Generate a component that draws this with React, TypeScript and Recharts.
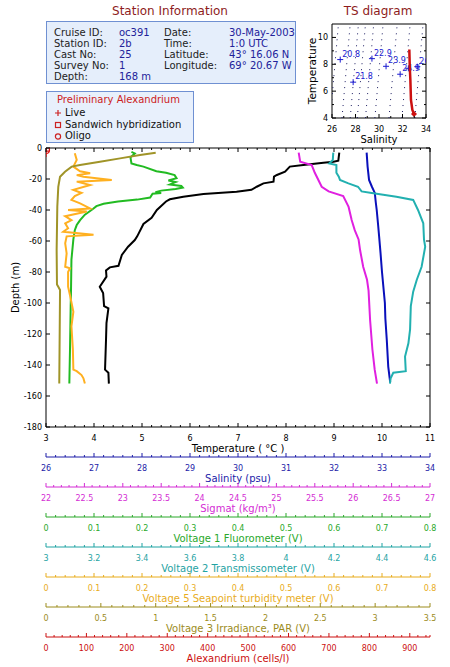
import React from "react";
import { ComposedChart, ScatterChart, Scatter, XAxis, YAxis } from "recharts";

const FONT = "'DejaVu Sans', Verdana, sans-serif";

// depth profiles, [value, depth in m]
const temperature = [
  [9.11, -3], [9.09, -8.2], [8.99, -8.8], [8.78, -9.5], [8.36, -11], [8.08, -12],
  [7.98, -15.3], [7.81, -17.4], [7.75, -18.5], [7.74, -21.7], [7.53, -22.8], [7.39, -25],
  [7.28, -27], [6.97, -28.2], [6.28, -29.7], [5.86, -31.4], [5.58, -33.1], [5.5, -34.5],
  [5.31, -40], [5.2, -45], [5.03, -49], [4.9, -57], [4.85, -59.4], [4.71, -63.7],
  [4.58, -69], [4.51, -76], [4.33, -77], [4.25, -79], [4.26, -83], [4.12, -89.5],
  [4.19, -93.5], [4.21, -102], [4.3, -103.5], [4.26, -113], [4.25, -124], [4.23, -143],
  [4.3, -145], [4.31, -152],
];
const salinity = [
  [32.68, -3], [32.7, -12], [32.73, -20.6], [32.79, -25], [32.85, -29], [32.87, -35],
  [32.89, -40], [32.92, -50], [32.94, -57], [32.97, -68], [33.0, -80], [33.03, -90],
  [33.06, -100], [33.07, -110], [33.1, -124], [33.13, -141], [33.17, -151],
];
const sigmat = [
  [25.29, -3], [25.31, -8.8], [25.46, -11], [25.5, -16], [25.59, -25], [25.68, -28],
  [25.87, -31], [25.94, -38], [25.98, -46.5], [26.02, -53], [26.07, -59], [26.09, -66],
  [26.13, -76.6], [26.18, -85], [26.2, -92], [26.22, -111], [26.25, -130], [26.28, -143],
  [26.31, -152],
];
const fluorometer = [
  [0.178, -2.5], [0.185, -3.5], [0.176, -6], [0.178, -10], [0.189, -11], [0.203, -12],
  [0.23, -15], [0.25, -16], [0.268, -17.5], [0.272, -19.5], [0.255, -21], [0.27, -22],
  [0.258, -23.5], [0.282, -24.5], [0.285, -25.5], [0.27, -26.5], [0.24, -27.5],
  [0.228, -28.5], [0.24, -29], [0.222, -29.5], [0.217, -32], [0.19, -33.3], [0.15, -34.5],
  [0.12, -36], [0.105, -37.5], [0.097, -39.5], [0.081, -43], [0.071, -46.5], [0.064, -49.7],
  [0.06, -53], [0.057, -59], [0.053, -72], [0.052, -94], [0.0514, -102], [0.05, -130],
  [0.0486, -152],
];
const transmissometer = [
  [4.197, -3], [4.195, -7.7], [4.18, -10], [4.21, -11], [4.21, -16], [4.22, -18.5],
  [4.225, -20.6], [4.26, -22.8], [4.3, -25], [4.315, -28], [4.357, -29], [4.46, -31.4],
  [4.53, -33.5], [4.55, -40], [4.572, -48.6], [4.575, -59], [4.58, -63.7], [4.565, -76.6],
  [4.545, -85], [4.53, -92.7], [4.52, -102], [4.517, -117], [4.51, -126], [4.496, -134.6],
  [4.499, -144], [4.447, -145], [4.436, -148.6], [4.433, -152],
];
const turbidity = [
  [0.06, -3.4], [0.064, -7.7], [0.057, -12], [0.071, -15], [0.092, -16.3], [0.064, -17.5],
  [0.078, -18.5], [0.137, -20.6], [0.064, -21.7], [0.092, -23.9], [0.057, -27], [0.074, -29],
  [0.06, -31], [0.053, -33.5], [0.071, -35.7], [0.092, -39], [0.046, -40], [0.085, -41],
  [0.04, -44], [0.053, -46.5], [0.04, -48.6], [0.046, -51.8], [0.036, -54], [0.099, -56],
  [0.043, -57], [0.04, -61.5], [0.043, -68], [0.04, -76.6], [0.05, -77.6], [0.046, -80],
  [0.046, -89.5], [0.05, -95], [0.057, -105.6], [0.053, -115], [0.056, -130], [0.057, -143],
  [0.064, -144], [0.074, -146.5], [0.078, -148.6], [0.081, -152],
];
const par = [
  [1.0, -3], [0.857, -4.5], [0.675, -6.7], [0.492, -8.8], [0.31, -11], [0.234, -12],
  [0.173, -15.3], [0.128, -18.5], [0.112, -25], [0.103, -38], [0.097, -66], [0.1, -88],
  [0.112, -89.5], [0.128, -91.6], [0.121, -152],
];
const alexLive = [[0, -2]];
const alexOligo = [[0, -2]];

// tick labels
const tempLabels = [3, 4, 5, 6, 7, 8, 9, 10, 11];
const salLabels = [26, 27, 28, 29, 30, 31, 32, 33, 34];
const sigLabels = [22, 22.5, 23, 23.5, 24, 24.5, 25, 25.5, 26, 26.5, 27];
const fluorLabels = [0, 0.1, 0.2, 0.3, 0.4, 0.5, 0.6, 0.7, 0.8];
const transLabels = [3, 3.2, 3.4, 3.6, 3.8, 4, 4.2, 4.4, 4.6];
const turbLabels = [0, 0.1, 0.2, 0.3, 0.4, 0.5, 0.6, 0.7, 0.8];
const parLabels = [0, 0.5, 1, 1.5, 2, 2.5, 3, 3.5];
const alexLabels = [0, 100, 200, 300, 400, 500, 600, 700, 800, 900];
const depthLabels = [0, -20, -40, -60, -80, -100, -120, -140, -160, -180];

// TS diagram
const tsLine = [[32.58, 9.1], [32.62, 7.8], [32.67, 6.83], [32.72, 5.34], [32.84, 4.6], [32.98, 4.3]];
const tsMarks = [
  { s: 26.7, t: 8.35, label: "20.8" },
  { s: 27.8, t: 6.67, label: "21.8" },
  { s: 29.4, t: 8.42, label: "22.9" },
  { s: 30.6, t: 7.85, label: "23.9" },
  { s: 31.8, t: 7.26, label: "24.9" },
  { s: 32.5, t: 7.7, label: "" },
  { s: 33.26, t: 7.82, label: "26" },
];
// isopycnals: salinity at T=4 and at T=11
const isopycnals = [
  [25.85, 26.55], [26.85, 27.55], [27.55, 28.25], [28.15, 28.85], [28.85, 29.55],
  [29.65, 30.35], [30.85, 31.55], [31.95, 32.65], [33.05, 33.75],
];
const tsSalLabels = [26, 28, 30, 32, 34];
const tsTempLabels = [4, 6, 8, 10];

const infoLeft = [
  ["Cruise ID:", "oc391"], ["Station ID:", "2b"], ["Cast No:", "25"], ["Survey No:", "1"], ["Depth:", "168 m"],
];
const infoRight = [
  ["Date:", "30-May-2003"], ["Time:", "1:0 UTC"], ["Latitude:", "43° 16.06 N"], ["Longitude:", "69° 20.67 W"],
];

const range = (a: number, b: number, s: number) => {
  const out: number[] = [];
  const n = Math.round((b - a) / s);
  for (let i = 0; i <= n; i++) out.push(+(a + i * s).toFixed(6));
  return out;
};
const pts = (rows: number[][]) => rows.map(([v, d]) => ({ v, d }));
const isMajor = (labels: number[], v: number) => labels.some((l) => Math.abs(l - v) < 1e-6);

// ids sort alphabetically in stacking order
const AXES = [
  { id: "a_temp", title: "Temperature ( °C )", color: "#000000", line: "#000000", domain: [3, 11], labels: tempLabels, minor: 0.2, data: temperature },
  { id: "b_sal", title: "Salinity (psu)", color: "#1c1ca8", line: "#0a10bb", domain: [26, 34], labels: salLabels, minor: 0.2, data: salinity },
  { id: "c_sig", title: "Sigmat (kg/m³)", color: "#d42cd4", line: "#e020e0", domain: [22, 27], labels: sigLabels, minor: 0.1, data: sigmat },
  { id: "d_fluor", title: "Voltage 1 Fluorometer (V)", color: "#2aa82a", line: "#22bb22", domain: [0, 0.8], labels: fluorLabels, minor: 0.02, data: fluorometer },
  { id: "e_trans", title: "Voltage 2 Transmissometer (V)", color: "#1fa3a3", line: "#22b0b0", domain: [3, 4.6], labels: transLabels, minor: 0.04, data: transmissometer },
  { id: "f_turb", title: "Voltage 5 Seapoint turbidity meter (V)", color: "#e8ac1c", line: "#ffb020", domain: [0, 0.8], labels: turbLabels, minor: 0.02, data: turbidity },
  { id: "g_par", title: "Voltage 3 Irradiance, PAR (V)", color: "#9c8c1c", line: "#a09428", domain: [0, 3.5], labels: parLabels, minor: 0.1, data: par },
  { id: "h_alex", title: "Alexandrium (cells/l)", color: "#cc1010", line: "#cc1010", domain: [0, 950], labels: alexLabels, minor: 20, data: null },
];

const bottomTick = (color: string, labels: number[], showText = true) => (p: any) => {
  const { x, y, payload } = p;
  const major = isMajor(labels, payload.value);
  return (
    <g>
      <line x1={x} x2={x} y1={y} y2={y - (major ? 4 : 2)} stroke={color} />
      {major && showText && (
        <text x={x} y={y + 14} textAnchor="middle" fontSize={8} fontFamily={FONT} fill={color}>
          {String(payload.value)}
        </text>
      )}
    </g>
  );
};
const topTick = (labels: number[]) => (p: any) => {
  const { x, y, payload } = p;
  const major = isMajor(labels, payload.value);
  return <line x1={x} x2={x} y1={y} y2={y + (major ? 4 : 2)} stroke="#000" />;
};
const leftTick = (labels: number[], showText = true) => (p: any) => {
  const { x, y, payload } = p;
  const major = isMajor(labels, payload.value);
  return (
    <g>
      <line x1={x} x2={x + (major ? 4 : 2)} y1={y} y2={y} stroke="#000" />
      {major && showText && (
        <text x={x - 4} y={y + 3} textAnchor="end" fontSize={8} fontFamily={FONT} fill="#000">
          {String(payload.value)}
        </text>
      )}
    </g>
  );
};
const rightTick = (labels: number[]) => (p: any) => {
  const { x, y, payload } = p;
  const major = isMajor(labels, payload.value);
  return <line x1={x} x2={x - (major ? 4 : 2)} y1={y} y2={y} stroke="#000" />;
};

const noShape = () => <g />;

const liveShape = (p: any) => (
  <path d={`M${p.cx - 3},${p.cy}H${p.cx + 3}M${p.cx},${p.cy - 5}V${p.cy + 6}`} stroke="#dd1111" strokeWidth={1.2} fill="none" />
);
const oligoShape = (p: any) => (
  <circle cx={p.cx} cy={p.cy - 1} r={3.5} stroke="#dd1111" strokeWidth={1.2} fill="none" />
);
const crossLabelShape = (p: any) => (
  <g>
    <path d={`M${p.cx - 3},${p.cy}H${p.cx + 3}M${p.cx},${p.cy - 3}V${p.cy + 3}`} stroke="#1a1ad0" strokeWidth={1} />
    <text x={p.cx + 2} y={p.cy - 3} fontSize={8} fontFamily={FONT} fill="#1a1ad0">
      {p.payload.label}
    </text>
  </g>
);
const diamondShape = (p: any) => (
  <path d={`M${p.cx},${p.cy - 3}L${p.cx + 3},${p.cy}L${p.cx},${p.cy + 3}L${p.cx - 3},${p.cy}Z`} fill="#cc1010" />
);

const abs = (left: number, top: number, extra: React.CSSProperties = {}): React.CSSProperties => ({
  position: "absolute", left, top, whiteSpace: "nowrap", ...extra,
});

function StationInfo() {
  return (
    <>
      <div style={abs(70, 3, { width: 200, textAlign: "center", fontSize: 12, color: "#8e1c1c", lineHeight: "16px" })}>
        Station Information
      </div>
      <div style={abs(46, 21, { width: 250, height: 63, boxSizing: "border-box", background: "#e5eefb", border: "1px solid #6f90d2" })}>
        {infoLeft.map(([k, v], i) => (
          <React.Fragment key={k}>
            <div style={abs(7, 5 + i * 10.9, { fontSize: 10, lineHeight: "12px", color: "#222" })}>{k}</div>
            <div style={abs(72, 5 + i * 10.9, { fontSize: 10, lineHeight: "12px", color: "#22229a" })}>{v}</div>
          </React.Fragment>
        ))}
        {infoRight.map(([k, v], i) => (
          <React.Fragment key={k}>
            <div style={abs(117, 5 + i * 10.9, { fontSize: 10, lineHeight: "12px", color: "#222" })}>{k}</div>
            <div style={abs(182, 5 + i * 10.9, { fontSize: 10, lineHeight: "12px", color: "#22229a" })}>{v}</div>
          </React.Fragment>
        ))}
      </div>
      <div style={abs(46, 91, { width: 148, height: 52, boxSizing: "border-box", background: "#e8f0fc", border: "1px solid #6f90d2" })}>
        <div style={abs(10, 1, { fontSize: 10, lineHeight: "14px", color: "#cc2222" })}>Preliminary Alexandrium</div>
        {["Live", "Sandwich hybridization", "Oligo"].map((t, i) => (
          <div key={t} style={abs(18, 15 + i * 11.7, { fontSize: 10, lineHeight: "12px", color: "#111" })}>{t}</div>
        ))}
        <svg style={abs(6, 16)} width={10} height={36}>
          <path d="M2,5H8M5,2V8" stroke="#cc2222" strokeWidth={1.2} />
          <rect x={2.5} y={14.5} width={5} height={5} stroke="#cc2222" strokeWidth={1.2} fill="none" />
          <circle cx={5} cy={28.5} r={2.6} stroke="#cc2222" strokeWidth={1.2} fill="none" />
        </svg>
      </div>
    </>
  );
}

function TSDiagram() {
  return (
    <>
      <div style={abs(318, 3, { width: 120, textAlign: "center", fontSize: 12, color: "#8e1c1c", lineHeight: "16px" })}>
        TS diagram
      </div>
      <div style={abs(300, 14)}>
        <ScatterChart width={135} height={132} margin={{ top: 9, right: 8, bottom: 0, left: 0 }} style={{ fontFamily: FONT }}>
          <XAxis xAxisId="s" dataKey="s" type="number" domain={[26, 34]} allowDataOverflow ticks={range(26, 34, 1)} interval={0}
            height={28} tickSize={0} tickMargin={0} tickLine={false} axisLine={{ stroke: "#000" }}
            tick={bottomTick("#000", tsSalLabels)}
            label={{ value: "Salinity", position: "insideBottom", offset: 3, fontSize: 10, fill: "#000" }} />
          <XAxis xAxisId="sTop" orientation="top" dataKey="s" type="number" domain={[26, 34]} allowDataOverflow
            height={1} tick={false} tickLine={false} axisLine={{ stroke: "#000" }} />
          <YAxis yAxisId="t" dataKey="t" type="number" domain={[4, 11]} allowDataOverflow ticks={range(4, 10, 1)} interval={0}
            width={32} tickSize={0} tickMargin={0} tickLine={false} axisLine={{ stroke: "#000" }}
            tick={leftTick(tsTempLabels)}
            label={{ value: "Temperature", angle: -90, position: "insideLeft", offset: 12, fontSize: 10.5, fill: "#000", style: { textAnchor: "middle" } }} />
          <YAxis yAxisId="tR" orientation="right" dataKey="t" type="number" domain={[4, 11]} allowDataOverflow ticks={range(4, 10, 1)} interval={0}
            width={1} tickSize={0} tickMargin={0} tickLine={false} axisLine={{ stroke: "#000" }} tick={rightTick(tsTempLabels)} />
          {isopycnals.map(([a, b], i) => (
            <Scatter key={i} xAxisId="s" yAxisId="t" data={[{ s: a, t: 4 }, { s: b, t: 11 }]} shape={noShape}
              line={{ stroke: "#1a1a60", strokeWidth: 1, strokeDasharray: "1 5" }} fill="#000" isAnimationActive={false} />
          ))}
          <Scatter xAxisId="s" yAxisId="t" data={tsMarks} shape={crossLabelShape} fill="#1a1ad0" isAnimationActive={false} />
          <Scatter xAxisId="s" yAxisId="t" data={tsLine.map(([s, t]) => ({ s, t }))} shape={noShape}
            line={{ stroke: "#cc1010", strokeWidth: 2.5 }} fill="#cc1010" isAnimationActive={false} />
          <Scatter xAxisId="s" yAxisId="t" data={tsLine.slice(-1).map(([s, t]) => ({ s, t }))} shape={diamondShape}
            fill="#cc1010" isAnimationActive={false} />
        </ScatterChart>
      </div>
    </>
  );
}

export default function App() {
  return (
    <div style={{ position: "fixed", left: 0, top: 0, width: 450, height: 667, background: "#fff", fontFamily: FONT }}>
      <StationInfo />
      <TSDiagram />
      <div style={abs(0, 143)}>
        <ComposedChart width={450} height={524} margin={{ top: 4, right: 19, bottom: 0, left: 6 }} style={{ fontFamily: FONT }}>
          <XAxis xAxisId="tempTop" orientation="top" dataKey="v" type="number" domain={[3, 11]} allowDataOverflow
            ticks={range(3, 11, 0.2)} interval={0} height={1} tickSize={0} tickMargin={0} tickLine={false}
            axisLine={{ stroke: "#000" }} tick={topTick(tempLabels)} />
          {AXES.map((a) => {
            const isAlex = a.id === "h_alex";
            const ticks = range(a.domain[0], a.domain[1] - (isAlex ? 10 : 0), a.minor);
            if (isAlex) ticks.push(950);
            return (
              <XAxis key={a.id} xAxisId={a.id} dataKey="v" type="number" domain={a.domain} allowDataOverflow
                ticks={ticks} interval={0} height={30} tickSize={0} tickMargin={0} tickLine={false}
                axisLine={{ stroke: a.color }} tick={bottomTick(a.color, a.labels)}
                label={{ value: a.title, position: "insideBottom", offset: 5, fontSize: 10, fill: a.color }} />
            );
          })}
          <YAxis yAxisId="depth" dataKey="d" type="number" domain={[-180, 0]} allowDataOverflow ticks={depthLabels}
            interval={0} width={40} tickSize={0} tickMargin={0} tickLine={false} axisLine={{ stroke: "#000" }}
            tick={leftTick(depthLabels)}
            label={{ value: "Depth (m)", angle: -90, position: "insideLeft", offset: 9, fontSize: 10, fill: "#000", style: { textAnchor: "middle" } }} />
          <YAxis yAxisId="depthR" orientation="right" dataKey="d" type="number" domain={[-180, 0]} allowDataOverflow
            ticks={depthLabels} interval={0} width={1} tickSize={0} tickMargin={0} tickLine={false}
            axisLine={{ stroke: "#000" }} tick={rightTick(depthLabels)} />
          {AXES.filter((a) => a.data).map((a) => (
            <Scatter key={a.id} xAxisId={a.id} yAxisId="depth" data={pts(a.data as number[][])} shape={noShape}
              line={{ stroke: a.line, strokeWidth: 2 }} fill={a.line} isAnimationActive={false} />
          ))}
          <Scatter xAxisId="h_alex" yAxisId="depth" data={pts(alexOligo)} shape={oligoShape} fill="#dd1111" isAnimationActive={false} />
          <Scatter xAxisId="h_alex" yAxisId="depth" data={pts(alexLive)} shape={liveShape} fill="#dd1111" isAnimationActive={false} />
        </ComposedChart>
      </div>
    </div>
  );
}
